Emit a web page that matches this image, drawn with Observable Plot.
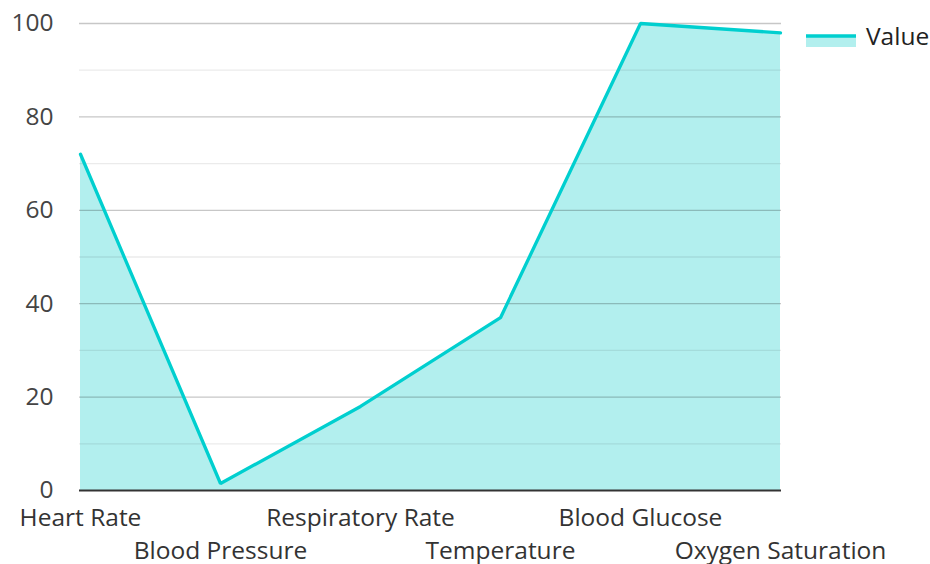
<!DOCTYPE html>
<html>
<head>
<meta charset="utf-8">
<script src="https://cdn.jsdelivr.net/npm/d3@7"></script>
<script src="https://cdn.jsdelivr.net/npm/@observablehq/plot@0.6"></script>
<style>
  html, body { margin: 0; padding: 0; background: #fff; }
  #chart svg { display: block; }
</style>
</head>
<body>
<div id="chart"></div>
<script>
const categories = ["Heart Rate", "Blood Pressure", "Respiratory Rate", "Temperature", "Blood Glucose", "Oxygen Saturation"];
const values = [72, 1.5, 18, 37, 100, 98];
const majorTicks = [0, 20, 40, 60, 80, 100];
const minorTicks = [10, 30, 50, 70, 90];
const seriesName = "Value";

const data = categories.map((c, i) => ({category: c, value: values[i], row: i % 2}));

const font = "'Open Sans', 'Noto Sans', sans-serif";
const lineColor = "#00cfcf";
const fillColor = "#b2efee";
const fs = 24.5;

const chart = Plot.plot({
  width: 930,
  height: 564,
  marginLeft: 79,
  marginRight: 149,
  marginTop: 23,
  marginBottom: 74,
  style: {fontFamily: font, fontSize: fs + "px", color: "#333", background: "#fff"},
  x: {type: "point", domain: categories, padding: 0, axis: null},
  y: {domain: [0, 100], axis: null},
  marks: [
    Plot.areaY(data, {x: "category", y: "value", fill: fillColor}),
    Plot.ruleY(minorTicks, {stroke: "#000", strokeOpacity: 0.08, strokeWidth: 1.3}),
    Plot.ruleY(majorTicks.filter(d => d > 0), {stroke: "#000", strokeOpacity: 0.22, strokeWidth: 1.3}),
    Plot.lineY(data, {x: "category", y: "value", stroke: lineColor, strokeWidth: 3.3, strokeLinejoin: "miter"}),
    Plot.ruleY([0], {stroke: "#333", strokeWidth: 2}),
    Plot.text(majorTicks, {y: d => d, text: d => String(d), frameAnchor: "left", textAnchor: "end", dx: -26, fill: "#444", fontSize: fs}),
    Plot.text(data.filter(d => d.row === 0), {x: "category", y: () => 0, text: "category", dy: 28, fill: "#333", fontSize: fs}),
    Plot.text(data.filter(d => d.row === 1), {x: "category", y: () => 0, text: "category", dy: 61, fill: "#333", fontSize: fs})
  ]
});

// Legend
const svg = d3.select(chart);
const lg = svg.append("g").attr("transform", "translate(806,36)");
lg.append("rect").attr("x", 0).attr("y", 0).attr("width", 50).attr("height", 11).attr("fill", fillColor);
lg.append("line").attr("x1", 0).attr("x2", 50).attr("y1", 0).attr("y2", 0).attr("stroke", lineColor).attr("stroke-width", 3.3);
lg.append("text").attr("x", 60).attr("y", 0).attr("dy", "0.35em").attr("text-anchor", "start")
  .attr("font-family", font).attr("font-size", fs).attr("fill", "#222").text(seriesName);

document.getElementById("chart").appendChild(chart);
</script>
</body>
</html>
